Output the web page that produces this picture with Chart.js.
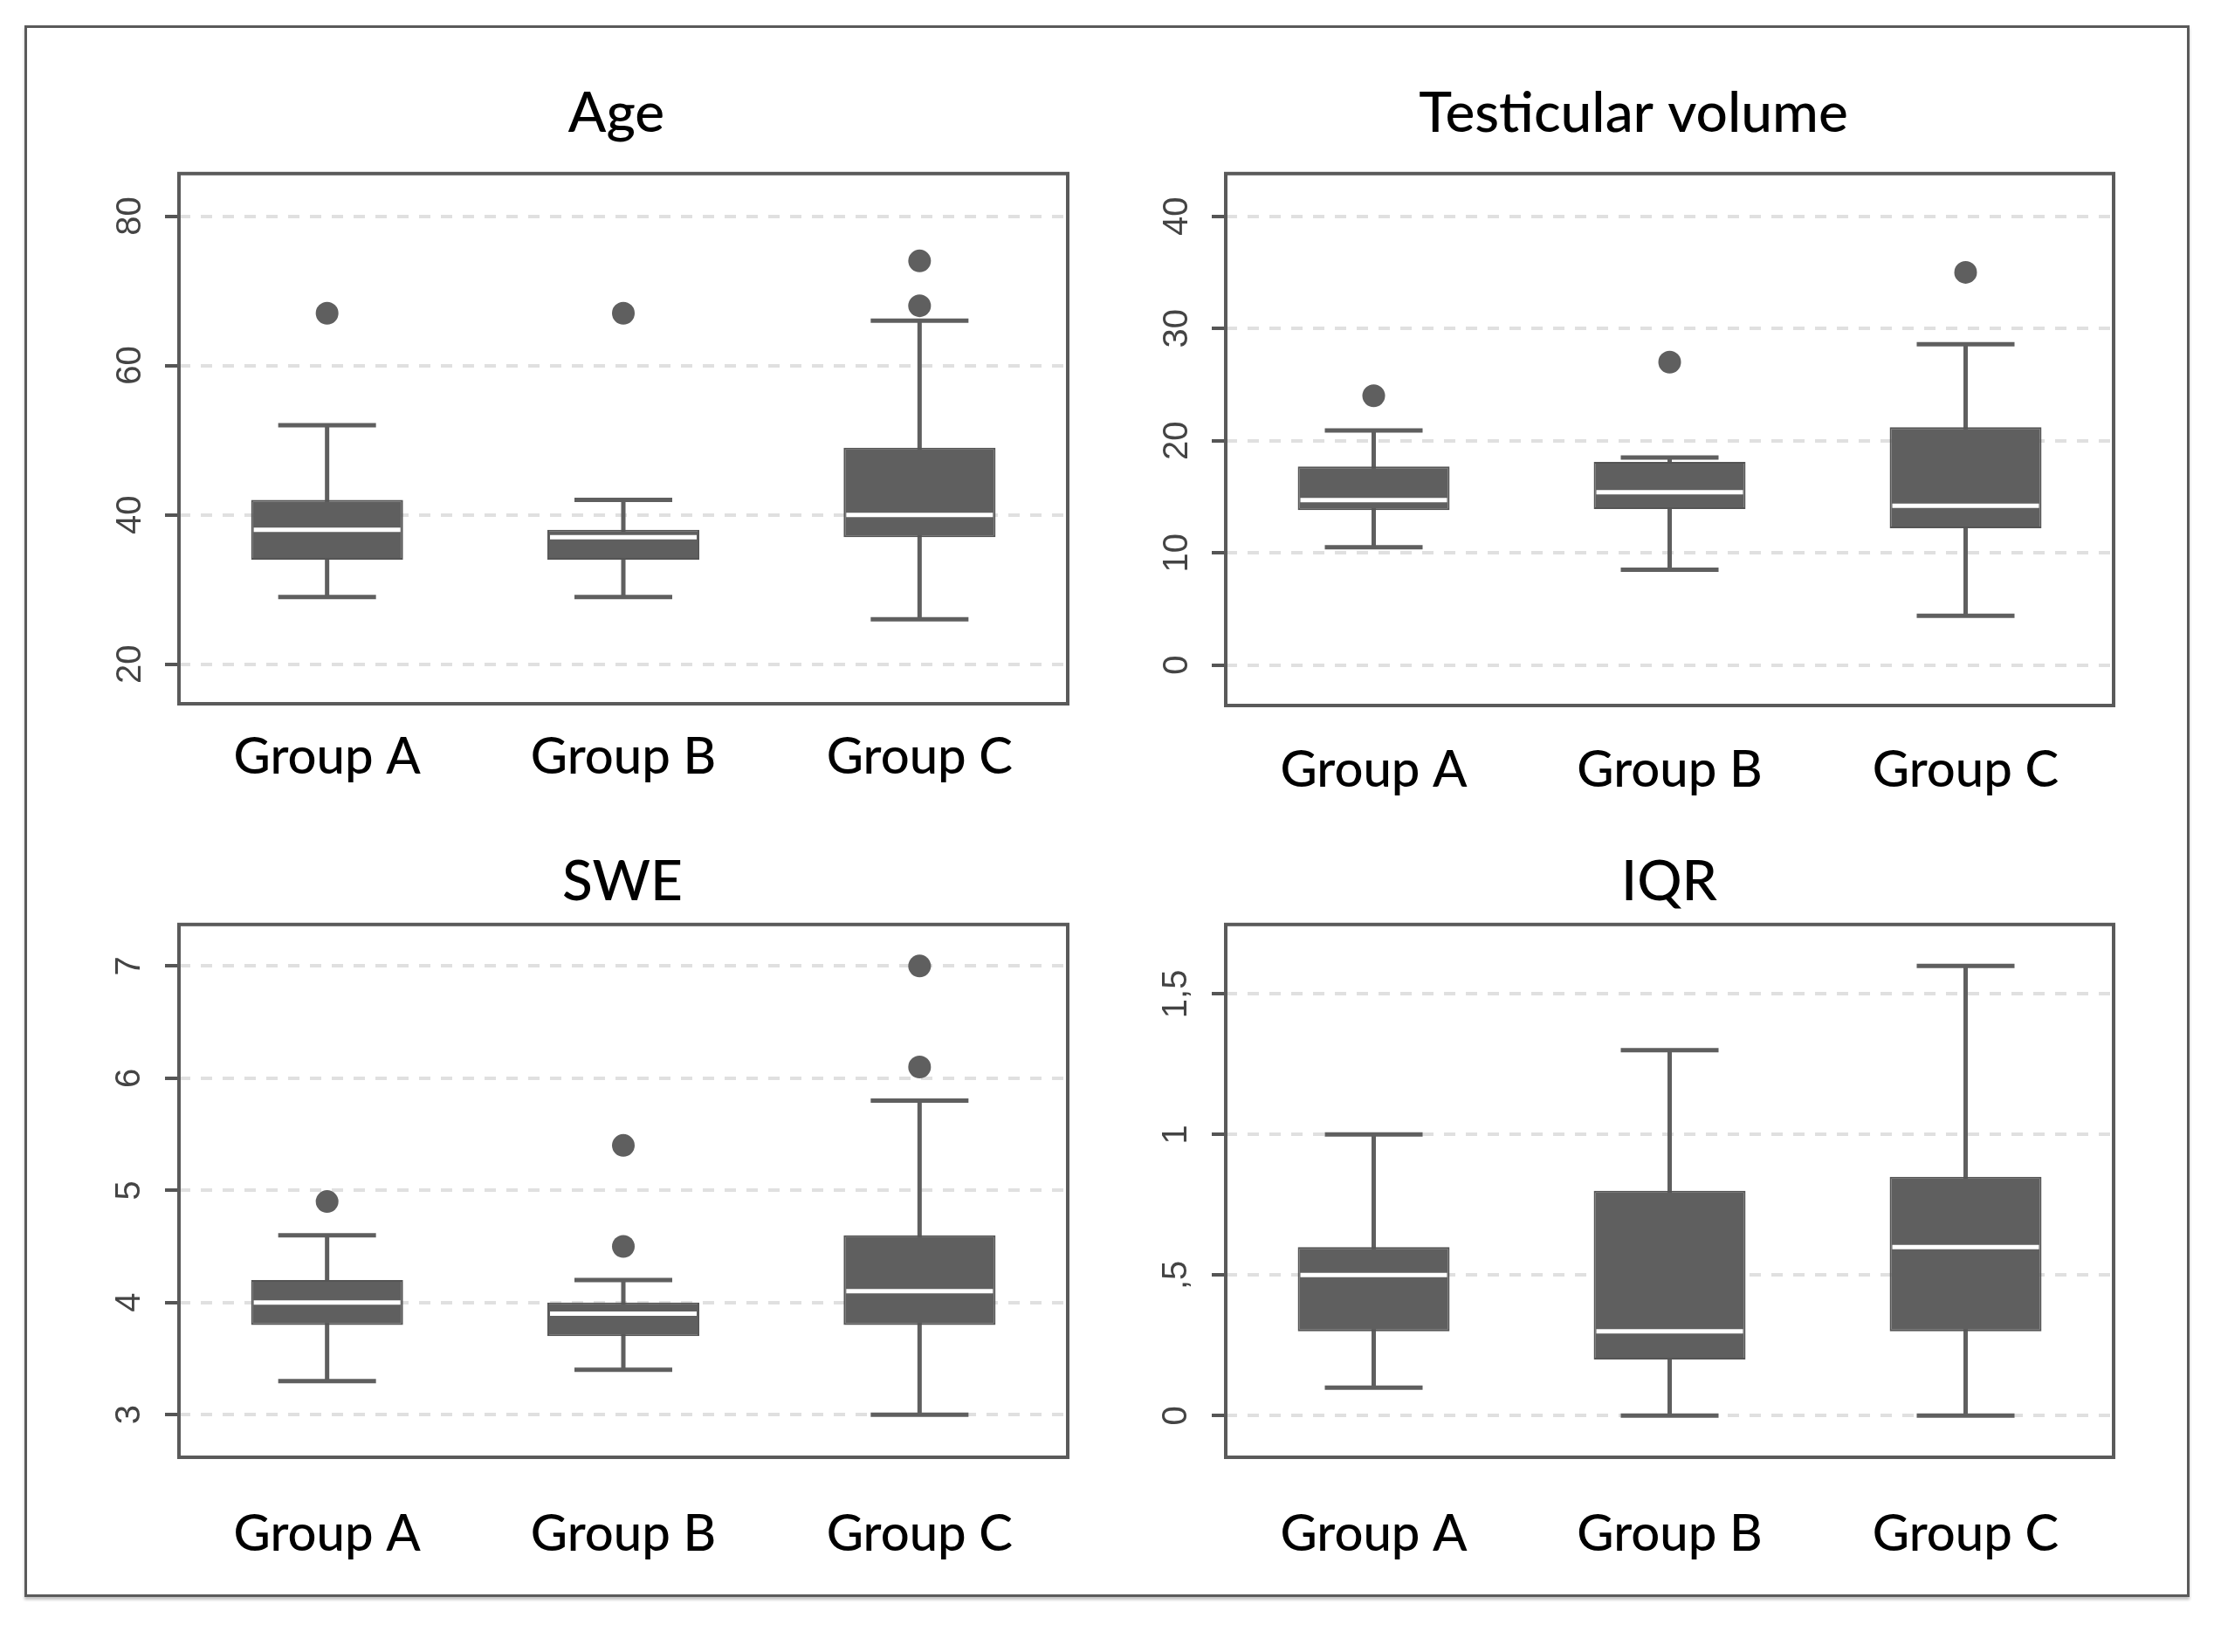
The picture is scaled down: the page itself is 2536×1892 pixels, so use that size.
<!DOCTYPE html>
<html>
<head>
<meta charset="utf-8">
<title>Box plots</title>
<script src="https://cdn.jsdelivr.net/npm/chart.js@4.4.1/dist/chart.umd.min.js"></script>
<style>
    html, body { margin: 0; padding: 0; background: #fff; }
    body { width: 2536px; height: 1892px; position: relative; overflow: hidden; }
    .frame {
        position: absolute; left: 28px; top: 29px; width: 2474px; height: 1794px;
        border: 3px solid #5a5a5a; box-shadow: 0 3px 3px rgba(0, 0, 0, 0.25);
    }
    .panel { position: absolute; }
</style>
</head>
<body>
<div class="frame"></div>
<div class="panel" style="left:101px;top:60px;width:1210px;height:880px"><canvas id="ageChart"></canvas></div>
<div class="panel" style="left:1300px;top:60px;width:1142px;height:880px"><canvas id="volChart"></canvas></div>
<div class="panel" style="left:101px;top:930px;width:1224px;height:900px"><canvas id="sweChart"></canvas></div>
<div class="panel" style="left:1300px;top:930px;width:1224px;height:900px"><canvas id="iqrChart"></canvas></div>

<script>
const groups = ['Group A', 'Group B', 'Group C'];

// each row: [lower whisker, Q1, median, Q3, upper whisker]
const ageStats = [[29, 34, 38, 42, 52], [29, 34, 37, 38, 42], [26, 37, 40, 49, 66]];
const ageOutliers = [[67], [67], [68, 74]];
const ageTicks = [20, 40, 60, 80];

const volStats = [[10.5, 13.8, 14.7, 17.7, 20.9], [8.5, 13.9, 15.4, 18.1, 18.5], [4.4, 12.2, 14.2, 21.2, 28.6]];
const volOutliers = [[24], [27], [35]];
const volTicks = [0, 10, 20, 30, 40];

const sweStats = [[3.3, 3.8, 4.0, 4.2, 4.6], [3.4, 3.7, 3.9, 4.0, 4.2], [3.0, 3.8, 4.1, 4.6, 5.8]];
const sweOutliers = [[4.9], [4.5, 5.4], [6.1, 7.0]];
const sweTicks = [3, 4, 5, 6, 7];

const iqrStats = [[0.1, 0.3, 0.5, 0.6, 1.0], [0, 0.2, 0.3, 0.8, 1.3], [0, 0.3, 0.6, 0.85, 1.6]];
const iqrOutliers = [[], [], []];
const iqrTicks = [0, 0.5, 1, 1.5];
const iqrTickLabels = ['0', ',5', '1', '1,5'];

const dark = '#5f5f5f';

// plot frame around the chart area
const framePlugin = {
    id: 'panelFrame',
    afterDatasetsDraw(chart) {
        const a = chart.chartArea;
        const ctx = chart.ctx;
        ctx.save();
        ctx.strokeStyle = '#5a5a5a';
        ctx.lineWidth = 4;
        ctx.strokeRect(a.left, a.top, a.right - a.left, a.bottom - a.top);
        ctx.restore();
    }
};

function boxDatasets(stats, outliers) {
    const col = k => stats.map(r => r[k]);
    const pts = [];
    outliers.forEach((list, i) => list.forEach(v => pts.push({ x: groups[i], y: v })));
    const cap = data => ({
        type: 'line', data: data, showLine: false, pointStyle: 'line',
        pointRadius: 56, pointBorderColor: dark, pointBorderWidth: 5, order: 3
    });
    return [
        { type: 'line', data: pts, showLine: false, pointStyle: 'circle', pointRadius: 13,
          pointBackgroundColor: dark, pointBorderWidth: 0, order: 1 },
        { type: 'line', data: col(2), showLine: false, pointStyle: 'line', pointRadius: 84,
          pointBorderColor: '#ffffff', pointBorderWidth: 5, order: 2 },
        cap(col(0)),
        cap(col(4)),
        { type: 'bar', data: stats.map(r => [r[1], r[3]]), backgroundColor: dark,
          borderColor: '#555', borderWidth: 2, borderSkipped: false,
          grouped: false, barPercentage: 0.513, categoryPercentage: 1, order: 4 },
        { type: 'bar', data: stats.map(r => [r[0], r[4]]), backgroundColor: dark,
          grouped: false, maxBarThickness: 5, order: 5 }
    ];
}

function makeChart(id, c) {
    return new Chart(document.getElementById(id), {
        type: 'bar',
        data: { labels: groups, datasets: boxDatasets(c.stats, c.outliers) },
        options: {
            responsive: true,
            maintainAspectRatio: false,
            animation: false,
            events: [],
            layout: { padding: 0, autoPadding: false },
            plugins: {
                legend: { display: false },
                tooltip: { enabled: false },
                title: {
                    display: true,
                    text: c.title,
                    color: '#000',
                    font: { family: 'Lato', size: 64, weight: '500' },
                    padding: { top: c.titleTop, bottom: c.titleBottom }
                }
            },
            scales: {
                x: {
                    grid: { display: false, drawTicks: false },
                    border: { display: false },
                    ticks: { color: '#000', font: { family: 'Lato', size: 58, weight: '500' }, padding: c.xPad },
                    afterFit: s => {
                        s.height = c.xHeight;
                        s.paddingLeft = 0;
                        s.paddingRight = c.rightGap;
                    }
                },
                y: {
                    min: c.min,
                    max: c.max,
                    bounds: 'data',
                    grid: { color: '#e0e0e0', lineWidth: 4, tickLength: 16, tickColor: '#555', tickWidth: 4 },
                    border: { display: false, dash: [13, 12] },
                    ticks: {
                        color: '#444',
                        font: { family: 'Liberation Sans', size: 40 },
                        minRotation: 90,
                        maxRotation: 90,
                        crossAlign: 'center',
                        autoSkip: false,
                        padding: c.yPad,
                        callback: (v, i) => c.tickLabels ? c.tickLabels[i] : String(v)
                    },
                    afterBuildTicks: s => { s.ticks = c.ticks.map(v => ({ value: v })); },
                    afterFit: s => { s.width = 104; }
                }
            }
        },
        plugins: [framePlugin]
    });
}

makeChart('ageChart', {
    title: 'Age', stats: ageStats, outliers: ageOutliers, ticks: ageTicks,
    min: 14.7, max: 85.7, rightGap: 88, yPad: 17,
    titleTop: 32, titleBottom: 30, xHeight: 134, xPad: 26
});

makeChart('volChart', {
    title: 'Testicular volume', stats: volStats, outliers: volOutliers, ticks: volTicks,
    min: -3.6, max: 43.8, rightGap: 21, yPad: 17,
    titleTop: 32, titleBottom: 30, xHeight: 132, xPad: 39
});

makeChart('sweChart', {
    title: 'SWE', stats: sweStats, outliers: sweOutliers, ticks: sweTicks,
    min: 2.62, max: 7.37, rightGap: 102, yPad: 29,
    titleTop: 42, titleBottom: 10, xHeight: 161, xPad: 53
});

makeChart('iqrChart', {
    title: 'IQR', stats: iqrStats, outliers: iqrOutliers, ticks: iqrTicks, tickLabels: iqrTickLabels,
    min: -0.148, max: 1.747, rightGap: 103, yPad: 12,
    titleTop: 42, titleBottom: 10, xHeight: 161, xPad: 53
});
</script>
</body>
</html>
